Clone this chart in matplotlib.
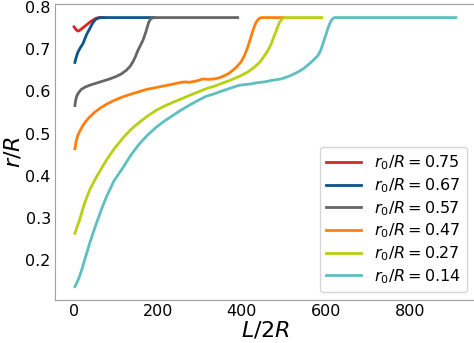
import matplotlib
matplotlib.use('Agg')
import matplotlib.pyplot as plt

# r0/R values and colours
labels = ['0.75', '0.67', '0.57', '0.47', '0.27', '0.14']
colors = ['#d62728', '#0b5585', '#666666', '#ff7f0e', '#b8d014', '#5dbfc0']

# L/2R and r/R for each curve
x075 = [0, 3, 6, 10, 15, 20, 25, 30, 35, 40, 45, 50, 55, 60, 70]
y075 = [0.752, 0.748, 0.744, 0.742, 0.745, 0.749, 0.753, 0.757, 0.761,
        0.765, 0.768, 0.771, 0.773, 0.774, 0.774]

x067 = [2, 5, 9, 15, 21, 25, 29, 33, 37, 41, 45, 49, 53, 59, 65, 190]
y067 = [0.668, 0.680, 0.692, 0.703, 0.712, 0.722, 0.732, 0.740, 0.747,
        0.755, 0.762, 0.767, 0.771, 0.773, 0.774, 0.774]

x057 = [2, 4, 7, 12, 17, 27, 37, 53, 69, 85, 101, 113, 124, 133, 140,
        146, 152, 158, 164, 168, 172, 175, 178, 182, 188, 390]
y057 = [0.566, 0.580, 0.590, 0.598, 0.604, 0.610, 0.614, 0.619, 0.624,
        0.629, 0.635, 0.641, 0.649, 0.658, 0.669, 0.681, 0.696, 0.708,
        0.720, 0.731, 0.743, 0.753, 0.763, 0.770, 0.774, 0.774]

x047 = [2, 5, 9, 15, 21, 29, 37, 49, 61, 77, 93, 112, 132, 152, 172, 192,
        212, 232, 251, 263, 275, 285, 295, 307, 320, 335, 347, 359, 369,
        378, 388, 398, 406, 414, 419, 424, 429, 434, 440, 446, 500]
y047 = [0.464, 0.482, 0.496, 0.508, 0.519, 0.530, 0.539, 0.550, 0.559,
        0.569, 0.577, 0.585, 0.592, 0.598, 0.604, 0.608, 0.612, 0.616,
        0.620, 0.622, 0.621, 0.623, 0.625, 0.629, 0.628, 0.629, 0.632,
        0.637, 0.642, 0.649, 0.658, 0.669, 0.684, 0.704, 0.720, 0.736,
        0.751, 0.763, 0.771, 0.774, 0.774]

x027 = [2, 7, 13, 19, 25, 31, 37, 45, 53, 65, 77, 95, 117, 136, 156, 176,
        196, 216, 236, 256, 275, 295, 315, 335, 351, 375, 398, 415, 430,
        443, 454, 463, 470, 476, 482, 486, 490, 495, 501, 590]
y027 = [0.264, 0.279, 0.295, 0.316, 0.335, 0.351, 0.366, 0.382, 0.397,
        0.417, 0.437, 0.463, 0.490, 0.510, 0.527, 0.542, 0.555, 0.565,
        0.574, 0.582, 0.590, 0.598, 0.606, 0.612, 0.618, 0.627, 0.637,
        0.646, 0.657, 0.669, 0.684, 0.698, 0.712, 0.728, 0.743, 0.754,
        0.763, 0.770, 0.774, 0.774]

x014 = [2, 7, 13, 19, 25, 31, 37, 45, 53, 65, 77, 95, 117, 136, 156, 176,
        196, 216, 236, 256, 275, 295, 315, 335, 351, 372, 394, 420, 436,
        454, 474, 494, 514, 533, 548, 561, 571, 581, 588, 593, 597, 601,
        605, 609, 614, 620, 910]
y014 = [0.138, 0.148, 0.162, 0.180, 0.201, 0.220, 0.240, 0.264, 0.287,
        0.320, 0.350, 0.388, 0.420, 0.450, 0.476, 0.497, 0.515, 0.530,
        0.543, 0.556, 0.567, 0.578, 0.588, 0.594, 0.600, 0.607, 0.614,
        0.617, 0.620, 0.622, 0.626, 0.629, 0.636, 0.645, 0.654, 0.665,
        0.674, 0.684, 0.697, 0.712, 0.724, 0.736, 0.748, 0.759, 0.769,
        0.774, 0.774]

xs = [x075, x067, x057, x047, x027, x014]
ys = [y075, y067, y057, y047, y027, y014]

fig = plt.figure(figsize=(4.74, 3.43), dpi=100)
ax = fig.add_axes([0.116, 0.125, 0.886, 0.863])

for x, y, lab, c in zip(xs, ys, labels, colors):
    ax.plot(x, y, color=c, linewidth=2, label=f'$r_0/R = {lab}$')

ax.set_xticks([0, 200, 400, 600, 800])
ax.set_yticks([0.2, 0.3, 0.4, 0.5, 0.6, 0.7, 0.8])
ax.tick_params(length=0, labelsize=11.5, pad=3)
for s in ax.spines.values():
    s.set_color('#a0a0a0')

ax.set_xlabel('$L/2R$', fontsize=16, labelpad=0)
ax.set_ylabel('$r/R$', fontsize=16, labelpad=1)
ax.legend(loc='lower right', fontsize=11.5, handlelength=2.2,
          labelspacing=0.25)

fig.savefig('out.png', dpi=100)
